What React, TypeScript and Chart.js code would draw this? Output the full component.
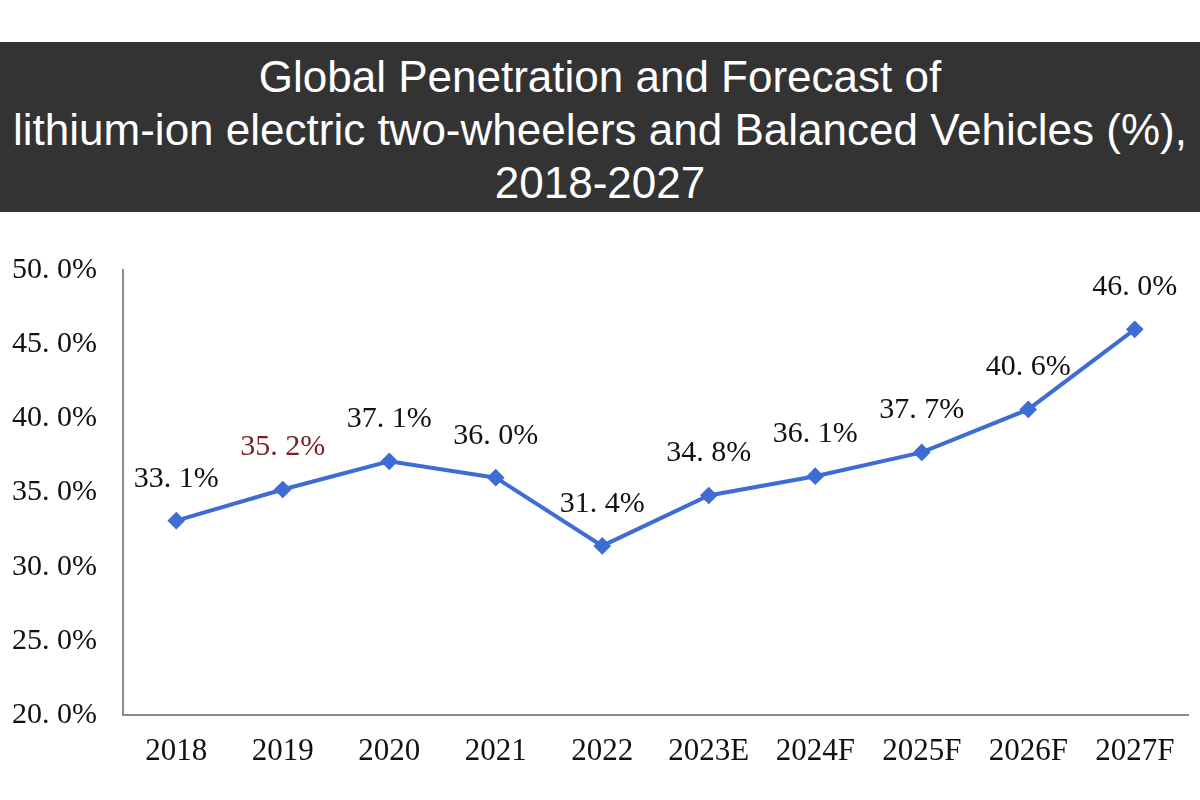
import React, { useEffect, useRef } from "react";
import { Chart, registerables } from "chart.js";

Chart.register(...registerables);

const categories = ["2018", "2019", "2020", "2021", "2022", "2023E", "2024F", "2025F", "2026F", "2027F"];
const penetration = [33.1, 35.2, 37.1, 36.0, 31.4, 34.8, 36.1, 37.7, 40.6, 46.0];
const valueLabels = ["33. 1%", "35. 2%", "37. 1%", "36. 0%", "31. 4%", "34. 8%", "36. 1%", "37. 7%", "40. 6%", "46. 0%"];
const labelColors = ["#111", "#7a1f24", "#111", "#111", "#111", "#111", "#111", "#111", "#111", "#111"];
const yTicks = [20, 25, 30, 35, 40, 45, 50];
const titleLines = [
  "Global Penetration and Forecast of",
  "lithium-ion electric two-wheelers and Balanced Vehicles (%),",
  "2018-2027",
];

const SERIF = "'Liberation Serif', 'DejaVu Serif', serif";

const labelPlugin = {
  id: "valueLabels",
  afterDatasetsDraw(chart: any) {
    const ctx = chart.ctx;
    const meta = chart.getDatasetMeta(0);
    ctx.save();
    ctx.font = `30px ${SERIF}`;
    ctx.textAlign = "center";
    ctx.textBaseline = "middle";
    meta.data.forEach((pt: any, i: number) => {
      ctx.fillStyle = labelColors[i];
      ctx.fillText(valueLabels[i], pt.x, pt.y - 42);
    });
    ctx.restore();
  },
};

export default function App() {
  const canvasRef = useRef<HTMLCanvasElement | null>(null);

  useEffect(() => {
    document.body.style.margin = "0";
    const canvas = canvasRef.current;
    if (!canvas) return;
    const chart = new Chart(canvas, {
      type: "line",
      data: {
        labels: categories,
        datasets: [
          {
            data: penetration,
            borderColor: "#3c6cd4",
            backgroundColor: "#3c6cd4",
            borderWidth: 4,
            pointStyle: "rectRot",
            pointRadius: 6,
            pointBackgroundColor: "#3c6cd4",
            pointBorderColor: "#3c6cd4",
            tension: 0,
          },
        ],
      },
      options: {
        responsive: false,
        animation: false,
        layout: { padding: { left: 0, right: 12, top: 270, bottom: 0 } },
        plugins: {
          legend: { display: false },
          title: { display: false },
          tooltip: { enabled: false },
        },
        scales: {
          x: {
            offset: true,
            grid: { display: false, drawTicks: false },
            border: { display: true, color: "#8c8c8c", width: 2 },
            ticks: {
              color: "#111",
              font: { family: SERIF, size: 31 },
              padding: 18,
              maxRotation: 0,
              autoSkip: false,
            },
            afterFit(scale: any) {
              scale.height = 85;
            },
          },
          y: {
            min: 20,
            max: 50,
            grid: { display: false, drawTicks: false },
            border: { display: true, color: "#8c8c8c", width: 2 },
            afterBuildTicks(scale: any) {
              scale.ticks = yTicks.map((v) => ({ value: v }));
            },
            ticks: {
              color: "#111",
              font: { family: SERIF, size: 30 },
              padding: 26,
              callback: (v: any) => Number(v).toFixed(1).replace(".", ". ") + "%",
            },
            afterFit(scale: any) {
              scale.width = 123;
            },
          },
        },
      },
      plugins: [labelPlugin],
    });
    return () => chart.destroy();
  }, []);

  return (
    <div style={{ position: "fixed", left: 0, top: 0, width: 1200, height: 800, background: "#fff", overflow: "hidden" }}>
      <canvas ref={canvasRef} width={1200} height={800} style={{ position: "absolute", left: 0, top: 0 }} />
      <div
        style={{
          position: "absolute",
          left: 0,
          top: 42,
          width: 1200,
          height: 170,
          background: "#333333",
          color: "#fff",
          fontFamily: "'Liberation Sans', Arial, sans-serif",
          fontSize: 44,
          lineHeight: "53px",
          textAlign: "center",
          paddingTop: 8,
          boxSizing: "border-box",
          whiteSpace: "nowrap",
        }}
      >
        {titleLines.map((t, i) => (
          <div key={i}>{t}</div>
        ))}
      </div>
    </div>
  );
}
